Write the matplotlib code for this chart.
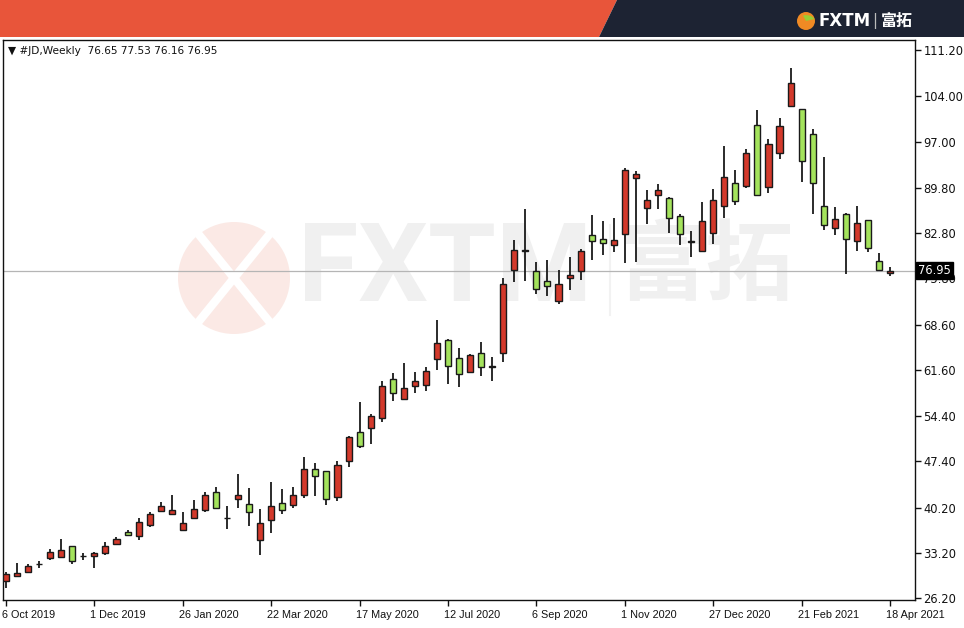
"""JD weekly candlestick chart, MT4 style, with the FXTM header band and watermark."""

import matplotlib.pyplot as plt
import matplotlib.patches as mpatches
import matplotlib.transforms as mtransforms
import pandas as pd

plt.switch_backend("Agg")

UP = "#d3392b"      # red = close above open
DOWN = "#a4e35c"    # green = close below open
EDGE = "#1a1a1a"
ORANGE = "#e8553a"
NAVY = "#1d2333"
WATER = "#f0f0f0"

FIRST_WEEK = "2019-10-06"
opens = [28.84, 29.62, 30.29, 31.42, 32.37, 32.57, 34.23, 32.70, 32.68, 33.14,
         34.54, 36.50, 35.84, 37.54, 39.72, 39.30, 36.72, 38.68, 39.83, 42.67,
         38.55, 41.63, 40.76, 35.26, 38.27, 40.92, 40.61, 42.20, 46.20, 45.83,
         41.79, 47.49, 51.99, 52.57, 54.13, 60.13, 57.02, 59.04, 59.30, 63.29,
         66.29, 63.45, 61.32, 64.27, 62.02, 64.17, 77.12, 80.00, 76.90, 75.35,
         72.20, 75.82, 76.90, 82.56, 81.94, 81.01, 82.72, 91.42, 86.76, 88.67,
         88.31, 85.51, 81.42, 80.02, 82.87, 86.96, 90.64, 90.07, 99.61, 89.96,
         95.15, 102.55, 101.98, 98.22, 87.00, 83.59, 85.72, 81.57, 84.78, 78.41,
         76.65]
highs = [30.24, 31.69, 31.44, 31.95, 33.77, 35.32, 34.30, 33.24, 33.40, 34.90,
         35.73, 36.81, 38.68, 39.61, 41.12, 42.20, 39.61, 41.38, 42.67, 43.34,
         40.50, 45.42, 43.25, 40.08, 44.12, 43.09, 43.34, 48.00, 47.18, 45.90,
         47.38, 51.37, 56.66, 54.75, 59.92, 61.06, 62.67, 61.32, 62.10, 69.25,
         66.40, 64.94, 64.07, 65.98, 63.54, 75.80, 81.68, 86.60, 78.30, 78.57,
         77.02, 79.08, 80.39, 85.67, 84.68, 85.14, 92.82, 92.40, 89.56, 90.49,
         88.40, 85.72, 83.12, 87.63, 89.60, 96.28, 92.66, 95.82, 101.83, 97.44,
         100.59, 108.36, 102.10, 98.88, 94.62, 86.85, 85.92, 87.00, 84.90, 79.70,
         77.53]
lows = [27.75, 29.55, 30.04, 30.91, 32.10, 32.46, 31.53, 32.06, 30.91, 32.88,
        34.43, 35.84, 35.21, 37.28, 39.56, 39.10, 36.61, 38.58, 39.56, 40.14,
        36.88, 40.14, 37.34, 32.83, 36.35, 39.30, 40.23, 41.69, 42.05, 40.65,
        41.17, 46.45, 49.46, 50.08, 53.44, 56.70, 56.92, 57.95, 58.37, 61.58,
        59.41, 58.99, 61.06, 60.70, 59.92, 62.77, 75.20, 75.35, 73.40, 72.98,
        71.73, 74.02, 75.57, 78.68, 79.45, 79.86, 78.15, 78.30, 84.16, 86.50,
        82.81, 80.90, 79.08, 79.86, 81.17, 85.20, 87.12, 89.81, 88.67, 89.09,
        94.27, 102.39, 90.74, 85.83, 83.23, 82.45, 76.50, 80.02, 79.86, 76.90,
        76.16]
closes = [29.98, 30.13, 31.17, 31.48, 33.35, 33.61, 31.95, 32.76, 33.19, 34.23,
          35.32, 35.94, 38.06, 39.30, 40.50, 39.83, 37.90, 40.08, 42.20, 40.23,
          38.68, 42.20, 39.56, 37.85, 40.45, 39.92, 42.16, 46.20, 45.16, 41.48,
          46.87, 51.11, 49.71, 54.37, 59.14, 58.01, 58.73, 59.81, 61.48, 65.78,
          62.25, 60.96, 63.92, 62.10, 62.16, 74.95, 80.12, 80.20, 74.17, 74.53,
          74.95, 76.35, 80.02, 81.57, 81.32, 81.79, 92.55, 92.04, 87.89, 89.56,
          85.20, 82.72, 81.60, 84.70, 87.89, 91.52, 87.78, 95.15, 88.67, 96.67,
          99.40, 106.12, 93.94, 90.59, 84.01, 85.05, 81.94, 84.42, 80.48, 77.12,
          76.95]

price_ticks = [111.20, 104.00, 97.00, 89.80, 82.80, 75.80, 68.60, 61.60,
               54.40, 47.40, 40.20, 33.20, 26.20]
date_labels = ["6 Oct 2019", "1 Dec 2019", "26 Jan 2020", "22 Mar 2020",
               "17 May 2020", "12 Jul 2020", "6 Sep 2020", "1 Nov 2020",
               "27 Dec 2020", "21 Feb 2021", "18 Apr 2021"]
symbol = "#JD,Weekly"

W, H = 964, 628
fig = plt.figure(figsize=(W / 100, H / 100), dpi=100)
fig.patch.set_facecolor("white")


def px(x, y):
    return x / W, 1 - y / H


# header band
fig.patches.append(mpatches.Polygon([px(0, 0), px(617, 0), px(599, 37), px(0, 37)],
                                    closed=True, transform=fig.transFigure,
                                    facecolor=ORANGE, edgecolor="none"))
fig.patches.append(mpatches.Polygon([px(617, 0), px(W, 0), px(W, 37), px(599, 37)],
                                    closed=True, transform=fig.transFigure,
                                    facecolor=NAVY, edgecolor="none"))
fig.patches.append(mpatches.Ellipse(px(806, 21), 18 / W, 18 / H, transform=fig.transFigure,
                                    facecolor="#f08a24", edgecolor="none"))
fig.patches.append(mpatches.Wedge(px(806, 21), 9 / W, 20, 110, transform=fig.transFigure,
                                  facecolor="#9acd32", edgecolor="none"))
fig.text(*px(819, 21), "FXTM", color="white", fontsize=12, fontweight="bold",
         family="DejaVu Sans", va="center", ha="left")
fig.text(*px(872, 21), "|", color="#bbbbbb", fontsize=11, va="center", ha="left")
fig.text(*px(881, 21), "富拓", color="white", fontsize=11.5, fontweight="bold",
         family=["Noto Sans CJK SC", "DejaVu Sans"], va="center", ha="left")

ax = fig.add_axes([3 / W, 28 / H, 912 / W, 560 / H])

# watermark
ax.add_patch(mpatches.Ellipse(px(234, 278), 112 / W, 112 / H, transform=fig.transFigure,
                              facecolor="#fbe9e5", edgecolor="none", zorder=0))
ax.plot([px(200, 0)[0], px(268, 0)[0]], [px(0, 236)[1], px(0, 320)[1]],
        transform=fig.transFigure, color="white", lw=6, zorder=0.1)
ax.plot([px(200, 0)[0], px(268, 0)[0]], [px(0, 320)[1], px(0, 236)[1]],
        transform=fig.transFigure, color="white", lw=6, zorder=0.1)
ax.text(*px(298, 271), "FXTM", transform=fig.transFigure, color=WATER,
        fontsize=79, fontweight="bold", family="Roboto", va="center", ha="left", zorder=0.2)
ax.plot([px(610, 0)[0]] * 2, [px(0, 225)[1], px(0, 315)[1]], transform=fig.transFigure,
        color="#f2f2f2", lw=1.5, zorder=0.2)
ax.text(*px(619, 268), "富拓", transform=fig.transFigure, color=WATER,
        fontsize=63, fontweight="bold", family=["Noto Sans CJK SC", "DejaVu Sans"],
        va="center", ha="left", zorder=0.2)

# candles
df = pd.DataFrame({"open": opens, "high": highs, "low": lows, "close": closes})
df["week"] = pd.date_range(FIRST_WEEK, periods=len(df), freq="7D")
x = list(range(len(df)))
up = df["close"] >= df["open"]
colors = [UP if u else DOWN for u in up]
bottoms = df[["open", "close"]].min(axis=1)
heights = (df["close"] - df["open"]).abs().clip(lower=0.04)

ax.vlines(x, df["low"], df["high"], color=EDGE, lw=1.3, zorder=2)
ax.bar(x, heights, bottom=bottoms, width=0.55, color=colors, edgecolor=EDGE,
       linewidth=1.0, zorder=3)

last = df["close"].iloc[-1]
ax.axhline(last, color="#b5b5b5", lw=0.9, zorder=1)

ax.set_xlim(-0.27, 82.26)
ax.set_ylim(25.89, 112.75)

# right price axis
ax.yaxis.tick_right()
ax.set_yticks(price_ticks, [f"{v:.2f}" for v in price_ticks])
ax.tick_params(axis="y", direction="out", length=4, width=1, pad=2,
               labelsize=8.3, colors="#111111")
for lab in ax.get_yticklabels():
    lab.set_family("DejaVu Sans")
ax.text(1.003, last, f"{last:.2f}", transform=ax.get_yaxis_transform(),
        color="white", fontsize=8.3, va="center", ha="left", family="DejaVu Sans",
        bbox=dict(boxstyle="square,pad=0.18", facecolor="black", edgecolor="black"),
        zorder=10, clip_on=False)

# date axis
week_index = {d.strftime("%-d %b %Y"): i for i, d in enumerate(df["week"])}
ax.set_xticks([week_index[s] for s in date_labels], date_labels)
ax.tick_params(axis="x", direction="out", length=4, width=1, pad=3,
               labelsize=7.8, colors="#111111")
shift = mtransforms.ScaledTranslation(-4 / 100, 0, fig.dpi_scale_trans)
for lab in ax.get_xticklabels():
    lab.set_horizontalalignment("left")
    lab.set_family("Liberation Sans")
    lab.set_transform(lab.get_transform() + shift)

for s in ax.spines.values():
    s.set_color("#111111")
    s.set_linewidth(1.0)

ax.text(*px(8, 51), "\u25bc " + symbol + "  " + " ".join(
    f"{v:.2f}" for v in (opens[-1], highs[-1], lows[-1], closes[-1])),
    transform=fig.transFigure, fontsize=7.6, family="DejaVu Sans", color="#111111",
    va="center", ha="left", zorder=10)

fig.savefig("out.png", dpi=100)
